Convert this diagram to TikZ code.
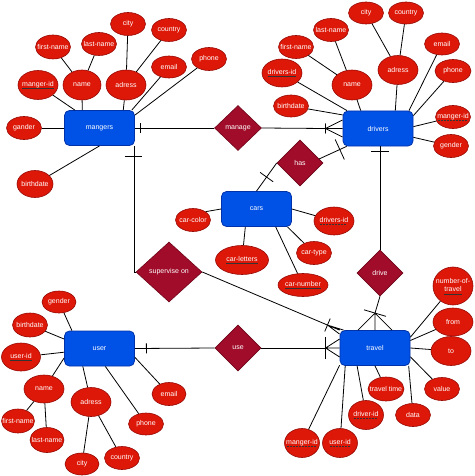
\documentclass[tikz,border=0pt]{standalone}
\usepackage{fontspec}
\setmainfont{Liberation Sans}
\usetikzlibrary{shapes.geometric,decorations.markings}

\definecolor{attrfill}{RGB}{222,24,8}
\definecolor{attrdraw}{RGB}{150,10,5}
\definecolor{entfill}{RGB}{0,82,230}
\definecolor{entdraw}{RGB}{0,50,170}
\definecolor{relfill}{RGB}{160,12,42}
\definecolor{reldraw}{RGB}{110,5,25}

% solid and dashed key lines under a label
\newcommand\keyul[1]{\setbox0\hbox{#1}\leavevmode
  \rlap{\raisebox{-2.6pt}{\color{black!80}\rule{\wd0}{0.6pt}}}\box0}
\newcommand\keydash[1]{\setbox0\hbox{#1}\leavevmode
  \rlap{\raisebox{-2.6pt}{\color{black!80}\hbox to \wd0{\leaders\hbox to 3pt{\hss\rule{1.8pt}{0.6pt}\hss}\hfill}}}\box0}

\begin{document}
\begin{tikzpicture}[x=1pt,y=-1pt,line width=0.8pt,
    txt/.style={font=\fontsize{7}{8.4}\selectfont, text=white},
    attr/.style 2 args={txt, ellipse, draw=attrdraw, fill=attrfill, line width=0.6pt,
      inner sep=0pt, minimum width=#1pt, minimum height=#2pt},
    ent/.style={txt, rectangle, rounded corners=5pt, draw=entdraw, fill=entfill,
      minimum width=70pt, minimum height=35pt},
    rel/.style 2 args={txt, diamond, draw=reldraw, fill=relfill, line width=0.6pt,
      inner sep=0pt, minimum width=#1pt, minimum height=#2pt},
    barat/.style 2 args={postaction={decorate}, decoration={markings,
      mark=at position #1 with {\draw (0,-#2/2) -- (0,#2/2);}}}]
  \useasboundingbox (0,0) rectangle (474,476);

  % entities
  \node[ent] (mangers) at (99.5,128) {mangers};
  \node[ent] (drivers) at (378,128.5) {drivers};
  \node[ent] (cars) at (256.5,209) {cars};
  \node[ent] (user) at (99.5,348.5) {user};
  \node[ent] (travel) at (375,348) {travel};

  % relationships
  \node[rel={47}{45}] (manage) at (238,128) {\makebox[0pt]{manage}};
  \node[rel={46}{46}] (has) at (300,163) {\makebox[0pt]{has}};
  \node[rel={66}{60}] (supervise) at (169,272) {\makebox[0pt]{supervise on}};
  \node[rel={46}{46}] (drive) at (380,273) {\makebox[0pt]{drive}};
  \node[rel={46}{46}] (use) at (238,348) {\makebox[0pt]{use}};

  % attributes: name/position/width/height/text
  \foreach \nm/\pos/\w/\h/\txt in {
      mid/{38,85}/40/29/{\keyul{manger-id}}, mname/{82,85}/38/30/name,
      madr/{126,85}/40/30/adress, mfirst/{53,47}/35/24/first-name,
      mlast/{99,44}/35/23/last-name, mcity/{128,24}/35/23/city,
      mcountry/{169,30}/35/23/country, memail/{169,67}/35/22/email,
      mphone/{209,59}/35/23/phone, mgender/{24,128}/35/23/gander,
      mbirth/{35,184}/36/27/birthdate,
      dcity/{366,13}/35/22/city, dcountry/{406,13}/35/22/country,
      dlast/{331,30}/35/23/last-name, dfirst/{296,47}/35/23/first-name,
      did/{282,73}/40/28/{\keyul{drivers-id}}, dname/{352,85}/40/30/name,
      dadr/{398,70}/40/29/adress, demail/{442,44}/35/22/email,
      dphone/{453,71}/36/23/phone, dbirth/{291,106}/35/22/birthdate,
      dmid/{453,117}/35/23/{\keydash{manger-id}}, dgender/{451,146}/35/23/gender,
      ccolor/{193,220}/35/23/car-color, cletters/{242,260}/53/29/{\keyul{car-letters}},
      cnumber/{303,285}/50/23/{\keyul{car-number}}, ctype/{314,253}/35/23/car-type,
      cdid/{334,221}/40/28/{\keydash{drivers-id}},
      tfrom/{453,322}/40/28/from, tto/{451,351}/40/29/to,
      tvalue/{442,389}/35/23/value, tdata/{413,415}/35/23/data,
      ttime/{386,389}/36/24/travel time, tdid/{366,415}/35/29/{\keydash{driver-id}},
      tmid/{302,443}/35/29/{\keydash{manger-id}}, tuid/{340,443}/35/29/{\keydash{user-id}},
      ugender/{59,302}/34/22/gender, ubirth/{30,325}/35/24/birthdate,
      uid/{21,357}/39/28/{\keyul{user-id}}, uname/{44,389}/40/28/name,
      ufirst/{18,421}/33/24/first-name, ulast/{47,440}/34/25/last-name,
      uadr/{91,402}/40/29/adress, ucity/{82,464}/34/22/city,
      ucountry/{122,458}/35/23/country, uphone/{146,424}/35/22/phone,
      uemail/{169,394}/34/23/email}
    \node[attr={\w}{\h}] (\nm) at (\pos) {\makebox[0pt]{\txt}};
  \node[attr={40}{38}] (tnum) at (453,286)
    {\makebox[0pt]{\begin{tabular}{@{}c@{}}number-of-\\\keyul{travel}\end{tabular}}};

  % attribute links
  \foreach \a/\b in {mid/mangers.144, mname/mangers.134, madr/mangers.37,
      memail/mangers.29, mphone/mangers.20, mgender/mangers.west, mbirth/mangers.south,
      mfirst/mname, mlast/mname, mcity/madr, mcountry/madr,
      did/drivers.150, dbirth/drivers.159, dname/drivers.134, dadr/drivers.46,
      demail/drivers.30, dphone/drivers.20, dmid/drivers.3, dgender/drivers.-14,
      dfirst/dname, dlast/dname, dcity/dadr, dcountry/dadr,
      cletters/cars.238, cnumber/cars.317, ctype/cars.330, cdid/cars.east,
      tnum/travel.17, tfrom/travel.12, tto/travel.east, tvalue/travel.-14,
      tdata/travel.-28, ttime/travel.south, tdid/travel.225, tuid/travel.211,
      tmid/travel.206,
      ugender/user.147, ubirth/user.165, uid/user.186, uname/user.195,
      uadr/user.227, uphone/user.288, uemail/user.346,
      ufirst/uname, ulast/uname, ucity/uadr, ucountry/uadr}
    \draw (\a) -- (\b);
  \draw (cars.west) -- (ccolor.north east);

  % relationship links
  \coordinate (md) at ([xshift=-17pt]drivers.west);
  \coordinate (sc) at ([shift={(-12pt,5pt)}]travel.north west);
  \coordinate (dt) at ([yshift=17pt]travel.north);
  \coordinate (ut) at ([xshift=-14pt]travel.west);

  \draw[barat={5pt}{10pt}] (mangers.east) -- (manage.west);
  \draw[barat={0.999}{10pt}] (manage.east) -- (md);
  \draw (md) -- (drivers.west) (md) -- ([yshift=8.5pt]drivers.west)
    (md) -- ([yshift=-8.5pt]drivers.west);

  \draw[barat={10.5pt}{17pt}] ([xshift=-1pt]mangers.south east) |- (supervise.west);
  \draw[barat={0.999}{14pt}] (supervise.east) -- (sc);
  \draw (sc) -- ([yshift=-4pt]travel.north west) (sc) -- (travel.north west)
    (sc) -- ([xshift=4pt]travel.north west);

  \draw[barat={7.5pt}{22pt}] ([xshift=4pt]drivers.south west) -- (has.12);
  \draw[barat={0.5}{16pt}] (cars.north) -- (has.west);

  \draw[barat={5pt}{18pt}] ([xshift=2pt]drivers.south) -- (drive.north);
  \draw[barat={0.999}{23pt}] (drive.south) -- (dt);
  \draw (dt) -- ([xshift=-17pt]travel.north) (dt) -- (travel.north)
    (dt) -- ([xshift=17pt]travel.north);

  \draw[barat={11.5pt}{10pt}] (user.east) -- (use.west);
  \draw[barat={0.999}{22pt}] (use.east) -- (ut);
  \draw (ut) -- (travel.west) (ut) -- ([yshift=9pt]travel.west)
    (ut) -- ([yshift=-9pt]travel.west);
\end{tikzpicture}
\end{document}
